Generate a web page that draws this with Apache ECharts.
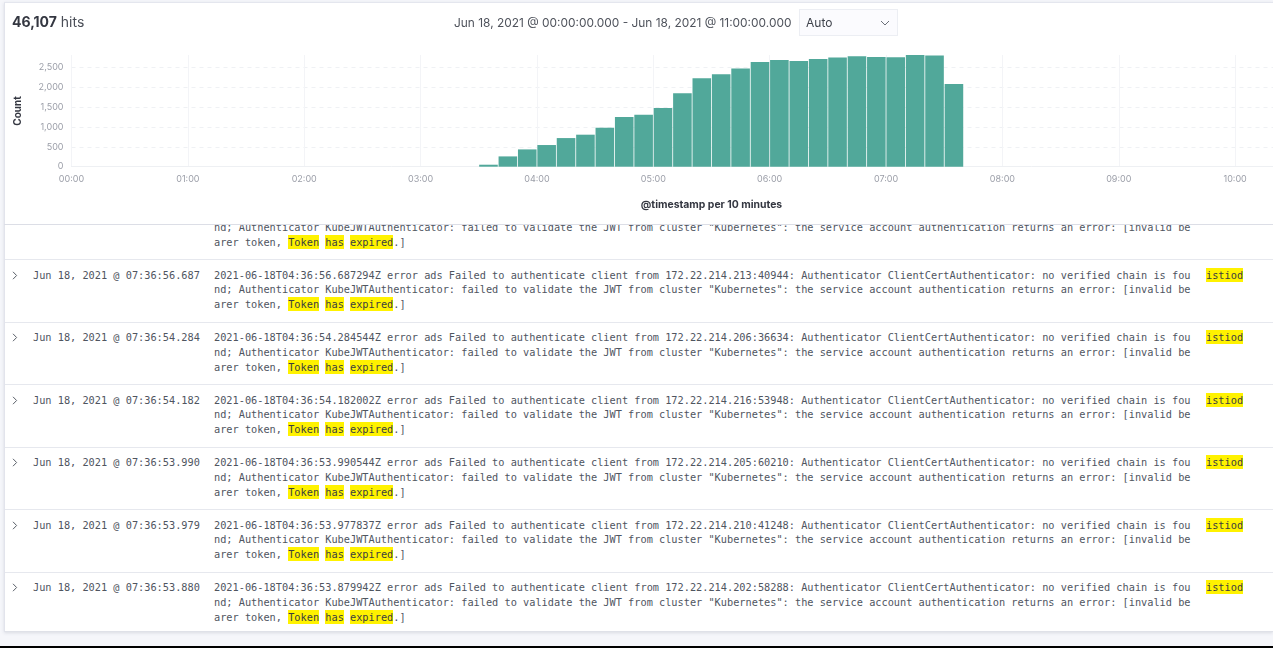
<!DOCTYPE html>
<html>
<head>
<meta charset="utf-8">
<script src="https://cdn.jsdelivr.net/npm/echarts@6/dist/echarts.min.js"></script>
<style>
html,body{margin:0;padding:0;background:#f5f6fa;overflow:hidden;width:1273px;height:648px;font-family:Inter,"Noto Sans",sans-serif}
#card{position:absolute;left:4px;top:2px;width:1269px;height:630px;background:#fff;border-left:1px solid #e2e4ec;border-top:1px solid #e4e6ee;border-bottom:1px solid #dfe1e8;box-sizing:border-box;box-shadow:0 1px 3px rgba(90,100,120,.18)}
#strip{position:absolute;left:0;top:646px;width:1273px;height:2px;background:#000}
#logs{position:absolute;left:0;top:224px;width:1273px;height:407px;overflow:hidden}
.row{position:absolute;left:5px;width:1268px;height:62.5px;border-bottom:1.5px solid #e6e8ee;box-sizing:border-box}
.t{position:absolute;white-space:pre;font:10.27px/14.9px "DejaVu Sans Mono",monospace;color:#4f555f}
mark{background:#fff200;color:#3a3d40;padding:1px 0}
#top{position:absolute;left:0;top:0;width:1273px;height:224px;overflow:hidden}
#chart{position:absolute;left:0;top:0;width:1400px;height:224px}
#head{position:absolute;left:0;top:0;width:1273px;height:50px;z-index:3;pointer-events:none}
#hits{position:absolute;left:12px;top:13px;font-size:14px;line-height:18px;color:#4a4e57}
#hits b{font-weight:700;color:#343741}
#range{position:absolute;left:454px;top:14px;font-size:11.92px;line-height:18px;color:#4f535c;white-space:pre}
#sel{position:absolute;left:799px;top:9px;width:99px;height:27px;box-sizing:border-box;border:1px solid #eceef3;background:#fbfbfe;font-size:12px;line-height:26px;color:#3f434c;padding-left:6px}
#sel svg{position:absolute;right:7px;top:10px}
#divider{position:absolute;left:4px;top:224px;width:1269px;height:1px;background:#dcdee6;z-index:2}
</style>
</head>
<body>
<div id="card"></div>
<div id="top">
  <div id="chart"></div>
  <div id="head">
    <div id="hits"><b id="hitTotal"></b> hits</div>
    <div id="range"></div>
    <div id="sel">Auto<svg width="10" height="6" viewBox="0 0 10 6"><path d="M1 1l4 4 4-4" fill="none" stroke="#6b7079" stroke-width="1"/></svg></div>
  </div>
</div>
<div id="divider"></div>
<div id="logs"></div>
<div id="strip"></div>
<script>
const hitTotal = "46,107";
const rangeLabel = "Jun 18, 2021 @ 00:00:00.000 - Jun 18, 2021 @ 11:00:00.000";
const intervalLabel = "Auto";
const bucketStarts = ["03:30","03:40","03:50","04:00","04:10","04:20","04:30","04:40","04:50","05:00","05:10","05:20","05:30","05:40","05:50","06:00","06:10","06:20","06:30","06:40","06:50","07:00","07:10","07:20","07:30"];
const hitCounts = [50,259,435,545,720,805,980,1250,1305,1475,1850,2225,2325,2470,2635,2685,2660,2710,2745,2776,2760,2752,2809,2795,2080];
const yTicks = [0,500,1000,1500,2000,2500];
const xAxisTitle = "@timestamp per 10 minutes";
const yAxisTitle = "Count";
const axisStart = "2021-06-18T00:00:00Z";
const axisEnd = "2021-06-18T11:00:00Z";
const logTimes = ["07:36:56.687","07:36:54.284","07:36:54.182","07:36:53.990","07:36:53.979","07:36:53.880"];
const logStamps = ["04:36:56.687294Z","04:36:54.284544Z","04:36:54.182002Z","04:36:53.990544Z","04:36:53.977837Z","04:36:53.879942Z"];
const logClients = ["172.22.214.213:40944","172.22.214.206:36634","172.22.214.216:53948","172.22.214.205:60210","172.22.214.210:41248","172.22.214.202:58288"];
const logLine2 = 'nd; Authenticator KubeJWTAuthenticator: failed to validate the JWT from cluster "Kubernetes": the service account authentication returns an error: [invalid be';
const logLine3 = 'arer token, <mark>Token</mark> <mark>has</mark> <mark>expired</mark>.]';

document.getElementById('hitTotal').textContent = hitTotal;
document.getElementById('range').textContent = rangeLabel;

// log rows
const logs = document.getElementById('logs');
function addText(parent, x, y, html){
  const d = document.createElement('div');
  d.className = 't';
  d.style.left = x + 'px';
  d.style.top = y + 'px';
  d.innerHTML = html;
  parent.appendChild(d);
}
const rowTop = i => 36 - 62.5 + 62.5 * i;   // relative to #logs; i=0 is the clipped row
const clipped = document.createElement('div');
clipped.className = 'row';
clipped.style.top = rowTop(0) + 'px';
logs.appendChild(clipped);
addText(logs, 214, -4, logLine2);
addText(logs, 214, 11, logLine3);
logTimes.forEach((t, i) => {
  const top = rowTop(i + 1);
  const row = document.createElement('div');
  row.className = 'row';
  row.style.top = top + 'px';
  if (i === logTimes.length - 1) row.style.borderBottom = 'none';
  logs.appendChild(row);
  const y = top + 7.5;
  const s = '<svg width="6" height="9" viewBox="0 0 6 9" style="position:absolute;left:' + 12 + 'px;top:' + (y + 3) + 'px"><path d="M1 .8l3.6 3.7L1 8.2" fill="none" stroke="#5a6069" stroke-width="1"/></svg>';
  logs.insertAdjacentHTML('beforeend', s);
  addText(logs, 33, y, 'Jun 18, 2021 @ ' + t);
  addText(logs, 214, y, '2021-06-18T' + logStamps[i] + ' error ads Failed to authenticate client from ' + logClients[i] + ': Authenticator ClientCertAuthenticator: no verified chain is fou');
  addText(logs, 214, y + 14.9, logLine2);
  addText(logs, 214, y + 29.8, logLine3);
  addText(logs, 1206, y, '<mark>istiod</mark>');
});

// histogram: each bucket spans [start, start + 10 min] on the time axis
const bucketMs = 10 * 60 * 1000;
const barData = bucketStarts.map((s, i) => {
  const start = Date.parse('2021-06-18T' + s + ':00Z');
  return [start, start + bucketMs, hitCounts[i]];
});
const chart = echarts.init(document.getElementById('chart'), null, {renderer: 'canvas'});
const tickFont = {fontFamily: 'Inter', fontSize: 9, color: '#9b9ea8'};
chart.setOption({
  animation: false,
  useUTC: true,
  backgroundColor: 'transparent',
  grid: {left: 71.5, top: 55, width: 1280, height: 111.7, containLabel: false},
  xAxis: {
    type: 'time',
    min: Date.parse(axisStart),
    max: Date.parse(axisEnd),
    minInterval: 3600000,
    maxInterval: 3600000,
    name: xAxisTitle,
    nameLocation: 'middle',
    nameGap: 33,
    nameTextStyle: {fontFamily: 'Inter', fontSize: 10.4, fontWeight: 700, color: '#343741'},
    axisLine: {show: true, onZero: false, lineStyle: {color: '#eef0f3', width: 1}},
    axisTick: {show: false},
    minorTick: {show: false},
    axisLabel: {
      ...tickFont,
      margin: 8,
      showMinLabel: true,
      showMaxLabel: true,
      hideOverlap: false,
      alignMinLabel: 'center',
      formatter: v => {
        const d = new Date(v);
        return String(d.getUTCHours()).padStart(2, '0') + ':' + String(d.getUTCMinutes()).padStart(2, '0');
      }
    },
    splitLine: {show: true, lineStyle: {color: '#f3f4f7', width: 1, type: 'solid'}}
  },
  yAxis: {
    type: 'value',
    min: 0,
    max: 2809,
    interval: 500,
    name: yAxisTitle,
    nameLocation: 'middle',
    nameGap: 49,
    nameRotate: 90,
    nameTextStyle: {fontFamily: 'Inter', fontSize: 10, fontWeight: 700, color: '#343741'},
    axisLine: {show: false},
    axisTick: {show: false},
    axisLabel: {
      ...tickFont,
      margin: 8,
      showMaxLabel: false,
      formatter: v => yTicks.includes(v) ? v.toLocaleString('en-US') : ''
    },
    splitLine: {show: true, showMinLine: false, showMaxLine: false, lineStyle: {color: '#eff1f4', width: 1, type: [4, 4]}}
  },
  series: [{
    type: 'custom',
    data: barData,
    encode: {x: [0, 1], y: 2},
    silent: true,
    renderItem: (params, api) => {
      const a = api.coord([api.value(0), api.value(2)]);
      const b = api.coord([api.value(1), 0]);
      return {
        type: 'rect',
        shape: {x: a[0] + 0.4, y: a[1], width: b[0] - a[0] - 0.8, height: b[1] - a[1]},
        style: {fill: '#51a89a'}
      };
    }
  }]
});
</script>
</body>
</html>
